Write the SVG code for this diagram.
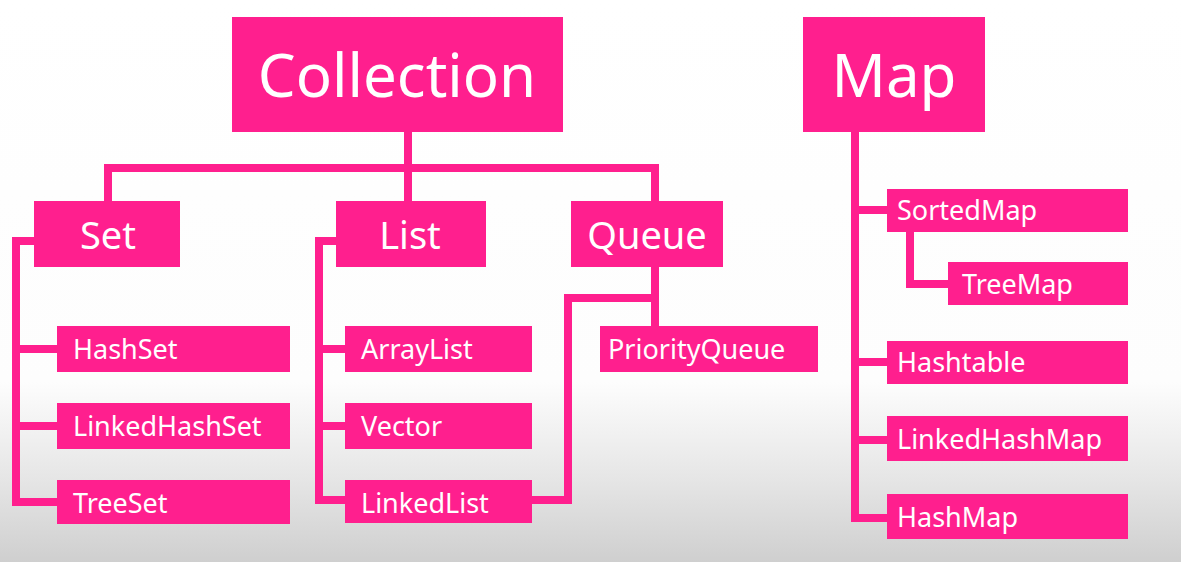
<svg xmlns="http://www.w3.org/2000/svg" width="1181" height="562" viewBox="0 0 1181 562">
<defs>
<linearGradient id="bg" x1="0" y1="0" x2="0" y2="1">
<stop offset="0" stop-color="#ffffff"/><stop offset="0.68" stop-color="#fdfdfd"/><stop offset="0.85" stop-color="#e6e6e6"/><stop offset="1" stop-color="#cfcfcf"/>
</linearGradient>
<style>
.b{fill:#ff1f8e}
.t{fill:#fff;font-family:"Noto Sans","Open Sans",sans-serif}
.big{font-size:60px}
.mid{font-size:38px}
.sm{font-size:27px}
.c{fill:none;stroke:#ff1f8e;stroke-width:8}
</style>
</defs>
<rect width="1181" height="562" fill="url(#bg)"/>
<g id="connectors">
<path class="c" d="M408 132V168M108 201V168H655V201M408 168V201"/>
<path class="c" d="M34 241H16V502H57M16 349H57M16 426H57"/>
<path class="c" d="M336 241H319V500H345M319 349H345M319 426H345"/>
<path class="c" d="M532 500H568V298H655M655 267V326"/>
<path class="c" d="M855 132V518H887M855 210H887M855 362H887M855 440H887M910 232V284H948"/>
</g>
<g id="collection"><rect class="b" x="232" y="17" width="331" height="115"/><text class="t big" x="397" y="97" text-anchor="middle">Collection</text></g>
<g id="map"><rect class="b" x="803" y="17" width="182" height="115"/><text class="t big" x="894" y="97" text-anchor="middle">Map</text></g>
<g id="set"><rect class="b" x="34" y="201" width="146" height="66"/><text class="t mid" x="108" y="249" text-anchor="middle">Set</text></g>
<g id="list"><rect class="b" x="336" y="201" width="150" height="66"/><text class="t mid" x="410" y="249" text-anchor="middle">List</text></g>
<g id="queue"><rect class="b" x="571" y="201" width="152" height="66"/><text class="t mid" x="647" y="249" text-anchor="middle">Queue</text></g>
<g id="hashset"><rect class="b" x="57" y="326" width="233" height="46"/><text class="t sm" x="73" y="359">HashSet</text></g>
<g id="linkedhashset"><rect class="b" x="57" y="403" width="233" height="46"/><text class="t sm" x="73" y="436">LinkedHashSet</text></g>
<g id="treeset"><rect class="b" x="57" y="480" width="233" height="44"/><text class="t sm" x="73" y="513">TreeSet</text></g>
<g id="arraylist"><rect class="b" x="345" y="326" width="187" height="46"/><text class="t sm" x="361" y="359">ArrayList</text></g>
<g id="vector"><rect class="b" x="345" y="403" width="187" height="46"/><text class="t sm" x="361" y="436">Vector</text></g>
<g id="linkedlist"><rect class="b" x="345" y="480" width="187" height="43"/><text class="t sm" x="361" y="513">LinkedList</text></g>
<g id="priorityqueue"><rect class="b" x="600" y="326" width="218" height="46"/><text class="t sm" x="608" y="359">PriorityQueue</text></g>
<g id="sortedmap"><rect class="b" x="887" y="189" width="241" height="43"/><text class="t sm" x="897" y="220">SortedMap</text></g>
<g id="treemap"><rect class="b" x="948" y="262" width="180" height="43"/><text class="t sm" x="962" y="294">TreeMap</text></g>
<g id="hashtable"><rect class="b" x="887" y="341" width="241" height="43"/><text class="t sm" x="897" y="372">Hashtable</text></g>
<g id="linkedhashmap"><rect class="b" x="887" y="416" width="241" height="45"/><text class="t sm" x="897" y="449">LinkedHashMap</text></g>
<g id="hashmap"><rect class="b" x="887" y="494" width="241" height="45"/><text class="t sm" x="897" y="527">HashMap</text></g>
</svg>
